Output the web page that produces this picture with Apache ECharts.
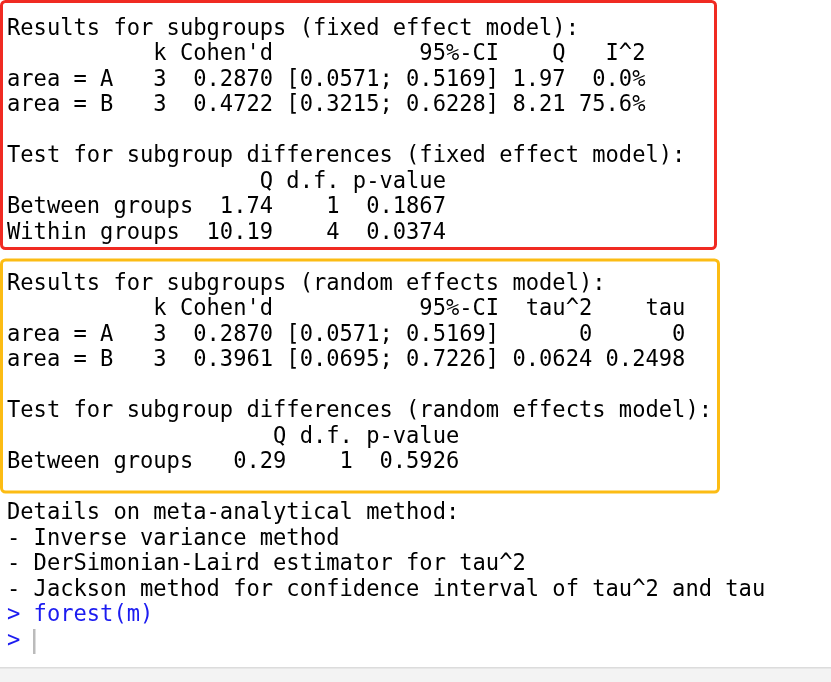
<!DOCTYPE html>
<html><head><meta charset="utf-8">
<script src="https://cdn.jsdelivr.net/npm/echarts@6/dist/echarts.min.js"></script>
<style>html,body{margin:0;padding:0;background:#fff}#c{width:831px;height:682px}</style>
</head><body><div id="c"></div>
<script>
const fixedLines = [
"Results for subgroups (fixed effect model):",
"           k Cohen'd           95%-CI    Q   I^2",
"area = A   3  0.2870 [0.0571; 0.5169] 1.97  0.0%",
"area = B   3  0.4722 [0.3215; 0.6228] 8.21 75.6%",
"",
"Test for subgroup differences (fixed effect model):",
"                   Q d.f. p-value",
"Between groups  1.74    1  0.1867",
"Within groups  10.19    4  0.0374"
];
const randomLines = [
"Results for subgroups (random effects model):",
"           k Cohen'd           95%-CI  tau^2    tau",
"area = A   3  0.2870 [0.0571; 0.5169]      0      0",
"area = B   3  0.3961 [0.0695; 0.7226] 0.0624 0.2498",
"",
"Test for subgroup differences (random effects model):",
"                    Q d.f. p-value",
"Between groups   0.29    1  0.5926"
];
const detailLines = [
"Details on meta-analytical method:",
"- Inverse variance method",
"- DerSimonian-Laird estimator for tau^2",
"- Jackson method for confidence interval of tau^2 and tau"
];
const promptLines = ["> forest(m)", ">"];

const FONT = '"DejaVu Sans Mono", "Liberation Mono", monospace';
const FS = 22.1, X0 = 7, Y0 = 27, LH = 25.5;
const g = [];
function addLine(txt, idx, color) {
  if (!txt) return;
  g.push({type:'text', left:X0, top:Y0 + idx*LH - 9, style:{text:txt, font:FS+'px '+FONT, fill:color||'#000'}});
}
let idx = 0;
fixedLines.forEach(t=>addLine(t, idx++));
idx++;
randomLines.forEach(t=>addLine(t, idx++));
idx++;
detailLines.forEach(t=>addLine(t, idx++));
promptLines.forEach(t=>addLine(t, idx++, '#1c1cf0'));

g.push({type:'rect', shape:{x:1.5,y:1.5,width:714,height:247,r:4}, style:{fill:'none',stroke:'#f02a22',lineWidth:3}});
g.push({type:'rect', shape:{x:1.5,y:260,width:717,height:232,r:4}, style:{fill:'none',stroke:'#fcbc14',lineWidth:3}});
g.push({type:'rect', shape:{x:33,y:629,width:2.5,height:25}, style:{fill:'#bbb'}});
g.push({type:'rect', shape:{x:0,y:668,width:831,height:14}, style:{fill:'#f3f3f3'}});
g.push({type:'rect', shape:{x:0,y:667,width:831,height:1.5}, style:{fill:'#dcdcdc'}});

echarts.init(document.getElementById('c')).setOption({animation:false, graphic:g});
</script></body></html>
